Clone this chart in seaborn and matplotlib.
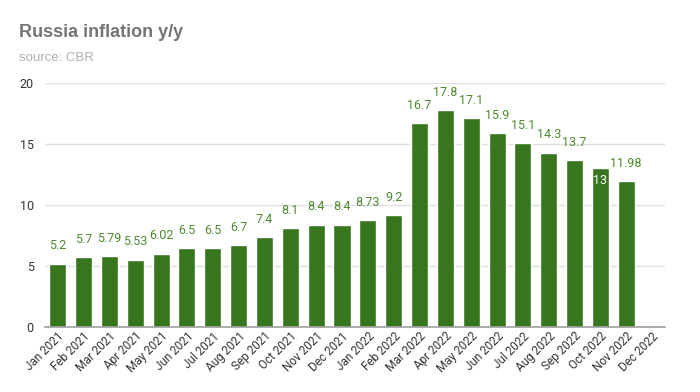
import matplotlib
matplotlib.use("Agg")
import matplotlib.pyplot as plt
import seaborn as sns
import pandas as pd

months = ["Jan 2021", "Feb 2021", "Mar 2021", "Apr 2021", "May 2021", "Jun 2021",
          "Jul 2021", "Aug 2021", "Sep 2021", "Oct 2021", "Nov 2021", "Dec 2021",
          "Jan 2022", "Feb 2022", "Mar 2022", "Apr 2022", "May 2022", "Jun 2022",
          "Jul 2022", "Aug 2022", "Sep 2022", "Oct 2022", "Nov 2022", "Dec 2022"]
inflation = [5.2, 5.7, 5.79, 5.53, 6.02, 6.5,
             6.5, 6.7, 7.4, 8.1, 8.4, 8.4,
             8.73, 9.2, 16.7, 17.8, 17.1, 15.9,
             15.1, 14.3, 13.7, 13, 11.98, None]
labels = ["5.2", "5.7", "5.79", "5.53", "6.02", "6.5",
          "6.5", "6.7", "7.4", "8.1", "8.4", "8.4",
          "8.73", "9.2", "16.7", "17.8", "17.1", "15.9",
          "15.1", "14.3", "13.7", "13", "11.98", ""]

df = pd.DataFrame({"month": months, "value": inflation})

sns.set_style("white")
plt.rcParams["font.family"] = ["Roboto", "DejaVu Sans"]

fig = plt.figure(figsize=(7, 3.92), dpi=100)
ax = fig.add_axes([0.064, 0.166, 0.886, 0.622])

bar_color = "#38761d"
sns.barplot(data=df, x="month", y="value", color=bar_color, saturation=1,
            width=0.66, ax=ax, order=months)

ax.set_ylim(0, 20)
ax.set_xlim(-0.5, len(months) - 0.5)
ax.set_yticks([0, 5, 10, 15, 20])
ax.yaxis.grid(True, color="#e0e0e0", linewidth=1)
ax.set_axisbelow(True)
for s in ["top", "right", "left"]:
    ax.spines[s].set_visible(False)
ax.spines["bottom"].set_color("#9e9e9e")
ax.spines["bottom"].set_linewidth(1.2)
ax.set_xlabel("")
ax.set_ylabel("")
ax.tick_params(axis="y", length=0, labelsize=9, colors="#333333", pad=8)
ax.tick_params(axis="x", length=0, labelsize=8.5, colors="#333333", pad=2)
plt.setp(ax.get_xticklabels(), rotation=45, ha="right", rotation_mode="anchor")

for i, (v, lab) in enumerate(zip(inflation, labels)):
    if v is None:
        continue
    if lab == "13":
        ax.annotate(lab, (i, v), xytext=(0, -4), textcoords="offset points",
                    ha="center", va="top", color="white", fontsize=9)
    else:
        ax.annotate(lab, (i, v), xytext=(0, 8), textcoords="offset points",
                    ha="center", va="bottom", color="#4e8a2e", fontsize=9)

fig.text(0.027, 0.905, "Russia inflation y/y", fontsize=13, fontweight="bold",
         color="#757575", family=["Liberation Sans", "DejaVu Sans"])
fig.text(0.027, 0.845, "source: CBR", fontsize=9.5, color="#b0b0b0",
         family=["Liberation Sans", "DejaVu Sans"])

fig.savefig("out.png", dpi=100)
